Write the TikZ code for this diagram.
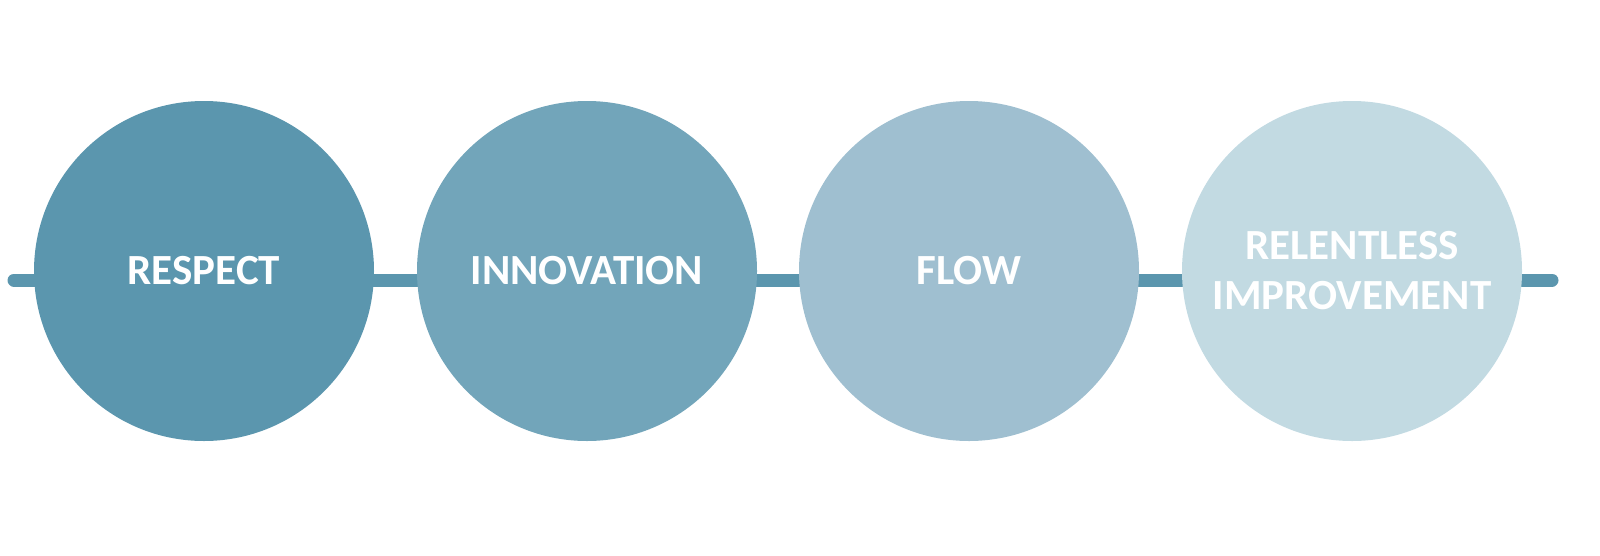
\documentclass[tikz,border=0pt]{standalone}
\usepackage{fontspec}
\setmainfont{Carlito}
\definecolor{c1}{HTML}{5B96AE}
\definecolor{c2}{HTML}{72A5BA}
\definecolor{c3}{HTML}{9FBFD0}
\definecolor{c4}{HTML}{C2DAE2}
\begin{document}
\begin{tikzpicture}[x=1pt,y=-1pt,
  circ/.style={circle,minimum size=340pt,inner sep=0pt,text=white,align=center,
    font=\fontsize{43}{50}\selectfont\bfseries}]
\useasboundingbox (0,0) rectangle (1600,555);
\coordinate (L) at (14,280);
\coordinate (R) at (1552,280);
\draw[c1,line width=13pt,line cap=round] (L) -- (R);
\node[circ,fill=c1] (a) at (204,271) {RESPECT};
\node[circ,fill=c2] (b) at (587,271) {INNOVATION};
\node[circ,fill=c3] (c) at (969,271) {FLOW};
\node[circ,fill=c4] (d) at (1352,271) {RELENTLESS\\IMPROVEMENT};
\end{tikzpicture}
\end{document}
